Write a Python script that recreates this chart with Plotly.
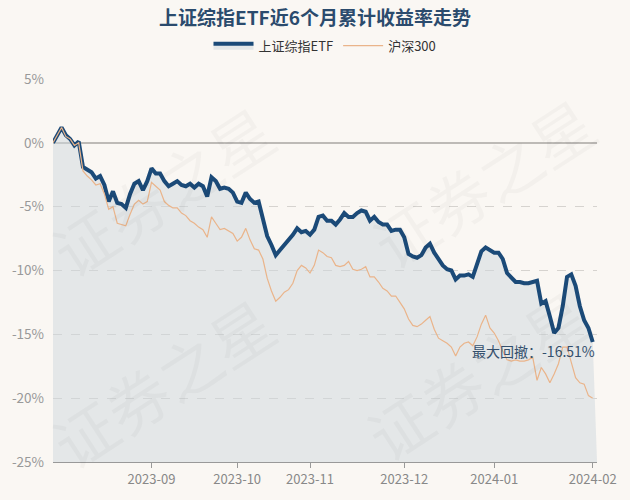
import pandas as pd
import plotly.graph_objects as go

# ---- data ----
holidays = ["2023-09-29", "2023-10-02", "2023-10-03", "2023-10-04", "2023-10-05", "2023-10-06"]
dates = [d for d in pd.bdate_range("2023-08-01", "2024-02-02").strftime("%Y-%m-%d") if d not in holidays]

etf = [0.0, 0.6, 1.2, 0.6, 0.3, -0.2, 0.1, -1.9, -2.1, -2.3,
       -2.8, -2.6, -3.3, -4.6, -3.8, -4.7, -4.8, -5.1, -4.0, -3.2,
       -3.0, -3.7, -3.0, -2.0, -2.4, -2.4, -3.0, -3.4, -3.2, -3.0,
       -3.3, -3.4, -3.2, -3.5, -3.2, -3.4, -4.2, -2.7, -3.0, -3.6,
       -3.5, -3.6, -3.9, -4.6, -4.7, -3.9, -4.4, -4.7, -4.6, -6.1,
       -7.3, -8.0, -8.8, -8.4, -8.0, -7.7, -7.2, -6.7, -7.0, -6.9,
       -7.2, -6.8, -5.8, -5.7, -6.1, -6.1, -6.4, -6.0, -5.5, -5.8,
       -5.8, -5.5, -5.3, -5.4, -6.1, -5.8, -6.2, -6.4, -6.4, -6.9,
       -6.8, -6.8, -7.4, -8.7, -8.9, -9.0, -8.8, -8.2, -7.9, -8.6,
       -9.1, -9.6, -9.9, -10.0, -10.7, -10.4, -10.4, -10.3, -10.5, -9.4,
       -8.5, -8.2, -8.4, -8.6, -8.6, -9.1, -10.2, -10.6, -10.9, -10.9,
       -11.0, -11.0, -10.9, -10.8, -12.6, -12.4, -13.6, -14.9, -14.5, -12.8,
       -10.5, -10.3, -11.2, -12.8, -13.9, -14.5, -15.6]

hs300 = [0.0, 0.6, 1.2, 0.5, 0.3, -0.2, 0.0, -2.2, -2.6, -2.9,
         -3.3, -3.2, -4.0, -5.2, -5.0, -6.3, -6.4, -6.5, -5.6, -4.8,
         -4.5, -4.8, -4.6, -3.1, -3.4, -3.7, -4.6, -4.9, -5.1, -5.1,
         -5.5, -5.7, -6.1, -6.3, -6.6, -6.8, -7.4, -5.8, -6.3, -6.8,
         -6.7, -6.9, -7.1, -7.7, -7.4, -6.7, -7.6, -8.3, -8.4, -9.1,
         -10.6, -11.6, -12.4, -12.1, -11.7, -11.5, -11.0, -10.0, -9.6, -9.8,
         -10.2, -9.6, -8.4, -8.6, -8.9, -9.0, -9.6, -9.7, -9.6, -9.3,
         -9.9, -10.0, -9.9, -9.7, -10.5, -10.5, -10.9, -11.4, -11.6, -12.0,
         -12.0, -12.5, -13.0, -13.8, -14.3, -14.4, -14.2, -13.9, -13.6, -14.6,
         -15.3, -15.5, -15.7, -16.0, -16.7, -16.0, -15.7, -15.6, -15.9, -15.2,
         -14.2, -13.5, -14.5, -14.9, -15.5, -16.3, -17.0, -17.1, -17.0, -17.1,
         -17.1, -17.0, -16.8, -18.6, -17.6, -18.1, -18.8, -18.1, -17.3, -16.0,
         -16.0, -17.2, -18.4, -18.8, -18.9, -19.8, -20.0]

series_names = ["上证综指ETF", "沪深300"]
title_text = "上证综指ETF近6个月累计收益率走势"
drawdown_text = "最大回撤：-16.51%"
watermark_text = "证券之星"
y_ticks = [5, 0, -5, -10, -15, -20, -25]
y_ticktext = [f"{v}%" for v in y_ticks]

# ---- derived ----
idx = list(range(len(dates)))
tickvals, ticktext = [], []
prev = dates[0][:7]
for i, d in enumerate(dates):
    if d[:7] != prev:
        tickvals.append(i)
        ticktext.append(d[:7])
        prev = d[:7]

FONT = "Noto Sans CJK SC"
fig = go.Figure()

# baseline for fill
fig.add_trace(go.Scatter(x=idx, y=[-25] * len(idx), mode="lines",
                         line=dict(width=0), hoverinfo="skip", showlegend=False))
fig.add_trace(go.Scatter(x=idx, y=etf, mode="lines", name=series_names[0],
                         line=dict(color="#1b4a78", width=4),
                         fill="tonexty", fillcolor="rgba(205,215,222,0.5)"))
fig.add_trace(go.Scatter(x=idx, y=hs300, mode="lines", name=series_names[1],
                         line=dict(color="#eab48a", width=1.2)))

annotations = [
    dict(x=idx[-1], y=-16.3, xref="x", yref="y", text=drawdown_text, showarrow=False,
         xanchor="right", yanchor="middle", font=dict(family=FONT, size=14, color="#34506d")),
]
# faint watermarks (paper fractions), kept fully inside the figure
for (wx, wy) in [(0.20, 0.71), (0.20, 0.21), (0.79, 0.73), (0.78, 0.23)]:
    annotations.append(dict(x=wx, y=wy, xref="paper", yref="paper", text=watermark_text,
                            showarrow=False, textangle=-33, xanchor="center", yanchor="middle",
                            font=dict(family=FONT, size=62, color="rgba(0,0,0,0.028)")))

fig.update_layout(
    width=630, height=500,
    paper_bgcolor="#faf7f3", plot_bgcolor="#faf7f3",
    margin=dict(l=53, r=33, t=79, b=36),
    title=dict(text="<b>" + title_text + "</b>", x=0.5, xanchor="center", y=0.963, yanchor="middle",
               font=dict(family=FONT, size=19, color="#2b4b6d")),
    legend=dict(orientation="h", x=0.5, xanchor="center", y=1.087, yanchor="middle",
                traceorder="normal",
                font=dict(family=FONT, size=13, color="#333333"), bgcolor="rgba(0,0,0,0)",
                itemwidth=40),
    showlegend=True,
    annotations=annotations,
    xaxis=dict(range=[0, len(idx) - 1], tickvals=tickvals, ticktext=ticktext, showgrid=False,
               zeroline=False, showline=True, linecolor="#999999", linewidth=1,
               ticks="outside", ticklen=5, tickcolor="#999999",
               tickfont=dict(family=FONT, size=13, color="#888888")),
    yaxis=dict(range=[-25, 5], tickvals=y_ticks, ticktext=y_ticktext, showgrid=True,
               gridcolor="#d6d3cf", griddash="dash", gridwidth=1,
               zeroline=True, zerolinecolor="#bdbab6", zerolinewidth=2,
               showline=False, ticks="", ticklabelstandoff=8,
               tickfont=dict(family=FONT, size=13.5, color="#999999")),
)

fig.write_html("out.html")
